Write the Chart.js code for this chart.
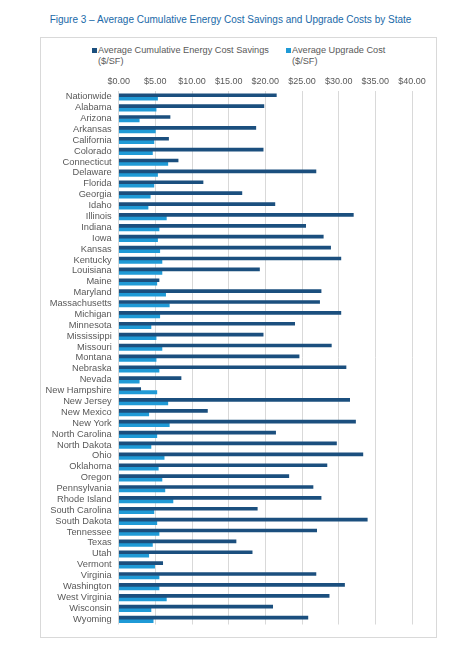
<!DOCTYPE html>
<html>
<head>
<meta charset="utf-8">
<script src="https://cdn.jsdelivr.net/npm/chart.js@4.4.1/dist/chart.umd.min.js"></script>
<style>
  body { margin: 0; background: #fff; font-family: "Liberation Sans", Arial, sans-serif; }
  #wrap { position: relative; width: 461px; height: 661px; }
  #titulo { position: absolute; left: 0; top: 14px; width: 461px; text-align: center; font-size: 10px; color: #2069a8; }
  #marco { position: absolute; left: 40px; top: 37px; width: 395px; height: 599px; border: 1px solid #d9d9d9; }
  .leyenda { position: absolute; font-size: 9.2px; line-height: 11px; color: #595959; white-space: nowrap; }
  .cuadro { position: absolute; width: 5px; height: 5px; }
  canvas { position: absolute; left: 0; top: 0; }
</style>
</head>
<body>
<div id="wrap">
  <div id="titulo">Figure 3 – Average Cumulative Energy Cost Savings and Upgrade Costs by State</div>
  <div id="marco"></div>
  <div class="cuadro" style="left:92px;top:48px;background:#1b4f7e"></div>
  <div class="leyenda" style="left:98px;top:45px">Average Cumulative Energy Cost Savings<br>($/SF)</div>
  <div class="cuadro" style="left:286px;top:48px;background:#1f9ad6"></div>
  <div class="leyenda" style="left:292px;top:45px">Average Upgrade Cost<br>($/SF)</div>
  <canvas id="grafico" width="461" height="661"></canvas>
</div>
<script>
// Datos
const estados = ['Nationwide', 'Alabama', 'Arizona', 'Arkansas', 'California', 'Colorado', 'Connecticut',
  'Delaware', 'Florida', 'Georgia', 'Idaho', 'Illinois', 'Indiana', 'Iowa', 'Kansas', 'Kentucky',
  'Louisiana', 'Maine', 'Maryland', 'Massachusetts', 'Michigan', 'Minnesota', 'Mississippi', 'Missouri',
  'Montana', 'Nebraska', 'Nevada', 'New Hampshire', 'New Jersey', 'New Mexico', 'New York',
  'North Carolina', 'North Dakota', 'Ohio', 'Oklahoma', 'Oregon', 'Pennsylvania', 'Rhode Island',
  'South Carolina', 'South Dakota', 'Tennessee', 'Texas', 'Utah', 'Vermont', 'Virginia', 'Washington',
  'West Virginia', 'Wisconsin', 'Wyoming'];

const ahorro = [21.5, 19.8, 7.0, 18.7, 6.8, 19.7, 8.1,
  26.9, 11.5, 16.8, 21.3, 32.0, 25.5, 27.9, 28.9, 30.3,
  19.2, 5.5, 27.6, 27.4, 30.3, 24.0, 19.7, 29.0,
  24.6, 31.0, 8.5, 3.0, 31.5, 12.1, 32.3,
  21.4, 29.7, 33.3, 28.4, 23.2, 26.5, 27.6,
  18.9, 33.9, 27.0, 16.0, 18.2, 6.0, 26.9, 30.8,
  28.7, 21.0, 25.8];

const costeMejora = [5.3, 5.1, 2.8, 5.0, 4.8, 4.6, 6.7,
  5.3, 4.8, 4.3, 4.0, 6.5, 5.5, 5.3, 5.6, 5.9,
  5.9, 5.2, 6.4, 6.9, 5.6, 4.4, 5.1, 5.9,
  5.1, 5.5, 2.8, 5.2, 6.7, 4.1, 6.9,
  5.2, 4.4, 6.2, 5.4, 5.9, 6.3, 7.4,
  4.8, 5.2, 5.5, 4.6, 4.1, 4.9, 5.5, 5.5,
  6.5, 4.4, 4.7];

const marcasX = [0, 5, 10, 15, 20, 25, 30, 35, 40];

const fuente = { family: '"Liberation Sans", Arial, sans-serif', size: 9.3 };

new Chart(document.getElementById('grafico'), {
  type: 'bar',
  data: {
    labels: estados,
    datasets: [{
      label: 'Average Cumulative Energy Cost Savings ($/SF)',
      data: ahorro,
      backgroundColor: '#1b4f7e',
      barThickness: 3
    }, {
      label: 'Average Upgrade Cost ($/SF)',
      data: costeMejora,
      backgroundColor: '#1f9ad6',
      barThickness: 3.5
    }]
  },
  options: {
    indexAxis: 'y',
    responsive: false,
    animation: false,
    layout: { padding: { left: 0, top: 70, right: 49, bottom: 36.5 } },
    plugins: {
      legend: { display: false },
      tooltip: { enabled: false }
    },
    scales: {
      x: {
        position: 'top',
        min: 0,
        max: 40,
        afterBuildTicks: eje => { eje.ticks = marcasX.map(v => ({ value: v })); },
        afterFit: eje => { eje.height = 21.3; },
        ticks: {
          padding: 4,
          color: '#595959',
          font: { family: fuente.family, size: 9 },
          callback: v => '$' + Number(v).toFixed(2)
        },
        grid: { color: '#d9d9d9', drawTicks: false },
        border: { display: false }
      },
      y: {
        afterFit: eje => { eje.width = 118.7; },
        ticks: {
          padding: 7,
          color: '#595959',
          font: fuente,
          autoSkip: false
        },
        grid: { display: false, drawTicks: false },
        border: { display: false }
      }
    }
  }
});
</script>
</body>
</html>
